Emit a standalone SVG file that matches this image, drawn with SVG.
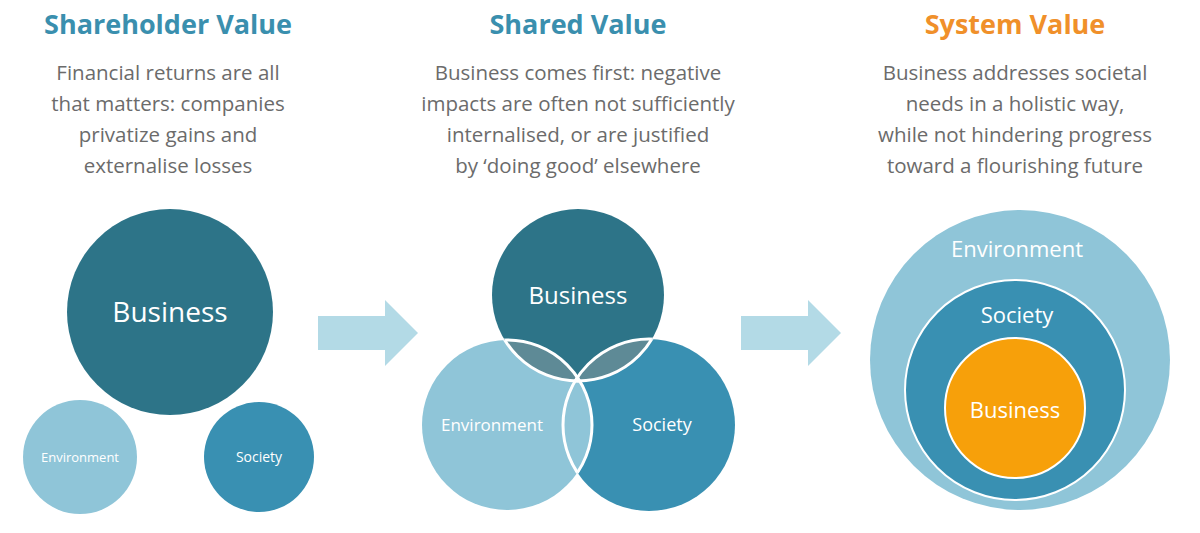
<svg xmlns="http://www.w3.org/2000/svg" width="1200" height="533" viewBox="0 0 1200 533">
<style>
.t{font-family:"Open Sans","Liberation Sans",sans-serif;font-weight:bold;font-size:27px;text-anchor:middle}
.d{font-family:"Open Sans","Liberation Sans",sans-serif;font-size:20.5px;fill:#6b6b6b;text-anchor:middle}
.l{font-family:"Open Sans","Liberation Sans",sans-serif;fill:#fff;text-anchor:middle}
.dk{fill:#2d7488}.md{fill:#3990b2}.lt{fill:#8fc5d8}.ar{fill:#b3dae6}
</style>
<defs>
<clipPath id="cB"><circle cx="578" cy="295" r="86"/></clipPath>
<clipPath id="cE"><circle cx="507" cy="425" r="85"/></clipPath>
<clipPath id="cS"><circle cx="649" cy="425" r="86"/></clipPath>
</defs>
<rect width="1200" height="533" fill="#fff"/>
<g id="titles">
<text class="t" x="168" y="34" fill="#3a8fae">Shareholder Value</text>
<text class="t" x="578" y="34" fill="#3a8fae">Shared Value</text>
<text class="t" x="1015" y="34" fill="#f0902a">System Value</text>
<text class="d" x="168" y="80">Financial returns are all</text>
<text class="d" x="168" y="111">that matters: companies</text>
<text class="d" x="168" y="142">privatize gains and</text>
<text class="d" x="168" y="173">externalise losses</text>
<text class="d" x="578" y="80">Business comes first: negative</text>
<text class="d" x="578" y="111">impacts are often not sufficiently</text>
<text class="d" x="578" y="142">internalised, or are justified</text>
<text class="d" x="578" y="173">by ‘doing good’ elsewhere</text>
<text class="d" x="1015" y="80">Business addresses societal</text>
<text class="d" x="1015" y="111">needs in a holistic way,</text>
<text class="d" x="1015" y="142">while not hindering progress</text>
<text class="d" x="1015" y="173">toward a flourishing future</text>
</g>
<g id="connectors">
<polygon class="ar" points="318,316 385,316 385,300 418,333 385,366 385,350 318,350"/>
<polygon class="ar" points="741,316 808,316 808,300 841,333 808,366 808,350 741,350"/>
</g>
<g id="left">
<circle class="dk" cx="170" cy="312" r="103"/>
<text class="l" x="170" y="322" font-size="28">Business</text>
<circle class="lt" cx="80" cy="457" r="57"/>
<text class="l" x="80" y="462" font-size="13">Environment</text>
<circle class="md" cx="259" cy="457" r="55"/>
<text class="l" x="259" y="462" font-size="14">Society</text>
</g>
<g id="middle">
<circle class="md" cx="649" cy="425" r="86"/>
<circle class="lt" cx="507" cy="425" r="85"/>
<circle class="dk" cx="578" cy="295" r="86"/>
<g clip-path="url(#cB)">
<circle cx="507" cy="425" r="85" fill="#5e8a96" stroke="#fff" stroke-width="3"/>
<circle cx="649" cy="425" r="86" fill="#5e8a96" stroke="#fff" stroke-width="3"/>
</g>
<g clip-path="url(#cE)">
<circle cx="578" cy="295" r="86" fill="none" stroke="#fff" stroke-width="3"/>
<circle cx="649" cy="425" r="86" fill="none" stroke="#fff" stroke-width="3"/>
</g>
<g clip-path="url(#cS)">
<circle cx="578" cy="295" r="86" fill="none" stroke="#fff" stroke-width="3"/>
<circle cx="507" cy="425" r="85" fill="none" stroke="#fff" stroke-width="3"/>
</g>
<text class="l" x="578" y="304" font-size="24">Business</text>
<text class="l" x="492" y="431" font-size="17">Environment</text>
<text class="l" x="662" y="431" font-size="18">Society</text>
</g>
<g id="right">
<circle class="lt" cx="1020" cy="360" r="150"/>
<text class="l" x="1017" y="257" font-size="22">Environment</text>
<circle class="md" cx="1015" cy="390" r="110" stroke="#fff" stroke-width="2"/>
<text class="l" x="1017" y="323" font-size="22">Society</text>
<circle cx="1015" cy="408" r="70" fill="#f7a00a" stroke="#fff" stroke-width="2"/>
<text class="l" x="1015" y="418" font-size="22">Business</text>
</g>
</svg>
